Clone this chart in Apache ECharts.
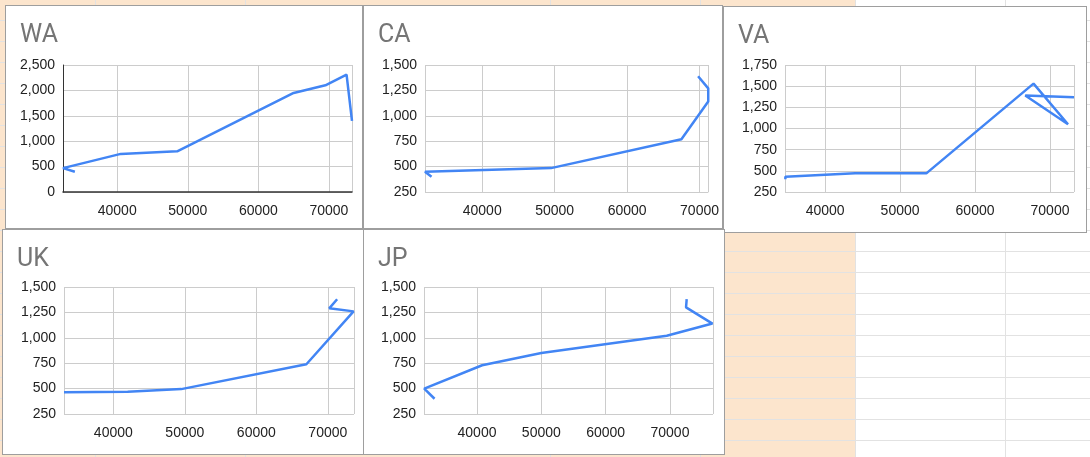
<!DOCTYPE html>
<html>
<head>
<meta charset="utf-8">
<script src="https://cdn.jsdelivr.net/npm/echarts@6/dist/echarts.min.js"></script>
<style>
  html, body { margin: 0; padding: 0; }
  body {
    width: 1090px; height: 457px; position: relative; overflow: hidden;
    background:
      linear-gradient(to right, #fce5cd 0, #fce5cd 855px, #ffffff 855px),
      #fff;
  }
  .cols, .rows { position: absolute; left: 0; top: 0; width: 1090px; height: 457px; }
  .rows { background: repeating-linear-gradient(to bottom, transparent 0, transparent 20px, #e2e2e2 20px, #e2e2e2 21px); }
  .vline { position: absolute; top: 0; width: 1px; height: 457px; background: #e2e2e2; }
  .box { position: absolute; background: #fff; border: 1px solid #9e9e9e; box-sizing: border-box; }
</style>
</head>
<body>
<div class="rows"></div>
<div class="vline" style="left:95px"></div>
<div class="vline" style="left:245px"></div>
<div class="vline" style="left:550px"></div>
<div class="vline" style="left:700px"></div>
<div class="vline" style="left:855px"></div>
<div class="vline" style="left:1005px"></div>

<div class="box" id="wa" style="left:5px;top:5px;width:358px;height:224px"></div>
<div class="box" id="ca" style="left:363px;top:5px;width:360px;height:224px"></div>
<div class="box" id="va" style="left:723px;top:6px;width:364px;height:227px"></div>
<div class="box" id="uk" style="left:2px;top:229px;width:362px;height:226px"></div>
<div class="box" id="jp" style="left:363px;top:229px;width:362px;height:226px"></div>

<script>
// x = income, y = value, points in sheet order
var waX = [34000, 32320, 40500, 48500, 65000, 69500, 72500, 73270];
var waY = [400, 470, 750, 800, 1950, 2100, 2310, 1400];
var caX = [33000, 32100, 49500, 67500, 71200, 71200, 69800];
var caY = [400, 450, 485, 770, 1140, 1270, 1390];
var vaX = [34700, 34700, 44000, 53500, 67800, 72400, 66700, 73200];
var vaY = [400, 430, 470, 470, 1530, 1050, 1390, 1370];
var ukX = [33100, 42000, 49500, 67000, 73600, 70200, 71300];
var ukY = [465, 470, 495, 740, 1260, 1290, 1380];
var jpX = [33400, 31800, 40800, 50000, 69500, 76600, 72500, 72600];
var jpY = [400, 500, 730, 850, 1020, 1140, 1300, 1380];

function pairs(xs, ys) {
  var res = [];
  for (var i = 0; i < xs.length; i++) res.push([xs[i], ys[i]]);
  return res;
}

function makeChart(id, title, xs, ys, cfg) {
  var chart = echarts.init(document.getElementById(id));
  chart.setOption({
    animation: false,
    title: {
      text: title, left: 9, top: 12,
      textStyle: { fontFamily: 'Roboto', fontWeight: 'normal', fontSize: 25, color: '#757575' }
    },
    grid: { left: cfg.left, top: cfg.top, width: cfg.width, height: 127, containLabel: false },
    xAxis: {
      type: 'value', min: cfg.xmin, max: cfg.xmax,
      axisLine: { show: false }, axisTick: { show: false },
      splitLine: { lineStyle: { color: '#cccccc' } },
      axisLabel: {
        showMinLabel: false, showMaxLabel: false, margin: 12,
        fontFamily: 'Liberation Sans', fontSize: 14, color: '#222',
        formatter: function (v) { return v % 10000 === 0 ? String(v) : ''; }
      }
    },
    yAxis: {
      type: 'value', min: cfg.ymin, max: cfg.ymax, interval: cfg.step,
      axisLine: { show: cfg.ymin === 0, onZero: false, lineStyle: { color: '#333' } },
      axisTick: { show: false },
      splitLine: { lineStyle: { color: '#cccccc' } },
      axisLabel: { margin: 8, fontFamily: 'Liberation Sans', fontSize: 14, color: '#222' }
    },
    series: [{
      type: 'line', data: pairs(xs, ys), showSymbol: false,
      lineStyle: { color: '#4285f4', width: 2.5 }
    }]
  });
  if (cfg.ymin === 0) {
    // dark base line at zero like the sheet chart
    chart.setOption({ xAxis: { axisLine: { show: true, lineStyle: { color: '#333', width: 1.5 } } } });
  }
}

makeChart('wa', 'WA', waX, waY, { left: 57, top: 59, width: 289, xmin: 32320, xmax: 73270, ymin: 0, ymax: 2500, step: 500 });
makeChart('ca', 'CA', caX, caY, { left: 61, top: 59, width: 289, xmin: 32100, xmax: 71220, ymin: 250, ymax: 1500, step: 250 });
makeChart('va', 'VA', vaX, vaY, { left: 61, top: 58, width: 289, xmin: 34650, xmax: 73200, ymin: 250, ymax: 1750, step: 250 });
makeChart('uk', 'UK', ukX, ukY, { left: 61, top: 57, width: 290, xmin: 33100, xmax: 73660, ymin: 250, ymax: 1500, step: 250 });
makeChart('jp', 'JP', jpX, jpY, { left: 60, top: 57, width: 289, xmin: 31760, xmax: 76690, ymin: 250, ymax: 1500, step: 250 });
</script>
</body>
</html>
